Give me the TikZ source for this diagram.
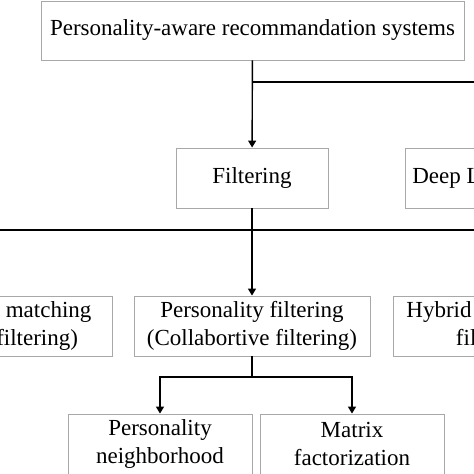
\documentclass[tikz,border=0pt]{standalone}
\usepackage{fontspec}
\setmainfont{Liberation Serif}
\usepackage{tikz}
\usetikzlibrary{positioning,arrows.meta}
\definecolor{boxgray}{RGB}{168,168,168}
\tikzset{
  catbox/.style  = {draw=boxgray, line width=0.9pt, fill=white, inner sep=0pt,
                    minimum height=60, align=center,
                    font=\fontsize{23}{27.5}\selectfont},
  treelink/.style = {line width=1.4pt, black},
  treearrow/.style = {treelink, -{Triangle[width=8pt,length=7pt]}}
}

\begin{document}
\begin{tikzpicture}[x=1pt, y=-1pt]
  \useasboundingbox (0,0) rectangle (474,474);
  \clip (0,0) rectangle (474,474);
  % Level 0
  \node[catbox, minimum width=423, minimum height=59] (root) at (252.5,30.5)
       {Personality-aware recommandation systems};
  % Level 1
  \node[catbox, minimum width=152] (filt) at (252,178) {Filtering};
  \node[catbox, minimum width=152] (deep) at (481,178) {Deep Learning};
  % Level 2
  \node[catbox, minimum width=236] (pmatch) at (-6,326)
       {Personality matching\\(Content filtering)};
  \node[catbox, minimum width=236] (pfilt)  at (252,326)
       {Personality filtering\\(Collabortive filtering)};
  \node[catbox, minimum width=200] (hybrid) at (493,326)
       {Hybrid personality\\filtering};
  % Level 3
  \node[catbox, minimum width=184] (nbr)  at (160,444) {Personality\\neighborhood};
  \node[catbox, minimum width=184] (matf) at (352,444) {Matrix\\factorization};
  % Junctions
  \coordinate (j1) at (252,82);
  \coordinate (j2) at (252,230);
  \coordinate (j3) at (252,377);
  % Edges
  \draw[treearrow] (root) -- (filt);
  \draw[treearrow] (j1) -| (deep.north);
  \draw[treearrow] (filt) -- (pfilt);
  \draw[treearrow] (j2) -| (pmatch.north);
  \draw[treearrow] (j2) -| (hybrid.north);
  \draw[treelink]  (pfilt.south) -- (j3);
  \draw[treearrow] (j3) -| (nbr.north);
  \draw[treearrow] (j3) -| (matf.north);
\end{tikzpicture}
\end{document}
